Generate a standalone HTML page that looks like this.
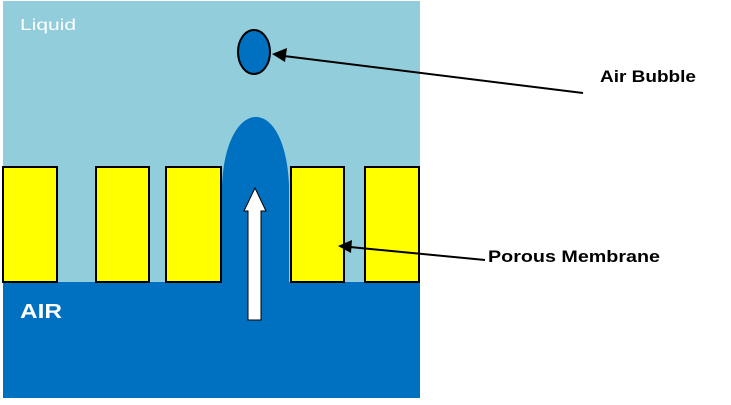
<!DOCTYPE html>
<html><head><style>
body{margin:0;width:731px;height:400px;background:#fff;overflow:hidden;font-family:"Liberation Sans",sans-serif}
</style></head><body>
<svg width="731" height="400" xmlns="http://www.w3.org/2000/svg">
<rect x="3" y="1" width="417" height="397" fill="#92cddc"/>
<rect x="3" y="282" width="417" height="116" fill="#0070c0"/>
<path d="M222 282 L222 185 C224 140 240 117 256 117 C272 117 287 140 289 185 L289 282 Z" fill="#0070c0"/>
<g fill="#ffff00" stroke="#000" stroke-width="2">
<rect x="3" y="167" width="54" height="115"/>
<rect x="96" y="167" width="53" height="115"/>
<rect x="166" y="167" width="55" height="115"/>
<rect x="291" y="167" width="53" height="115"/>
<rect x="365" y="167" width="54" height="115"/>
</g>
<path d="M248 320 L248 211 L244 211 L255 188 L266 211 L261 211 L261 320 Z" fill="#fff" stroke="#000" stroke-width="1"/>
<ellipse cx="254" cy="52" rx="16" ry="22" fill="#0070c0" stroke="#000" stroke-width="2"/>
<line x1="583" y1="93" x2="284" y2="56" stroke="#000" stroke-width="2"/>
<polygon points="272,54 287,48 285,62" fill="#000"/>
<line x1="485" y1="260" x2="350" y2="247" stroke="#000" stroke-width="2"/>
<polygon points="338,246 352,240 351,253" fill="#000"/>
<text x="20" y="30" font-size="16" fill="#fff" textLength="56" lengthAdjust="spacingAndGlyphs">Liquid</text>
<text x="20" y="318" font-size="20" font-weight="bold" fill="#fff" textLength="42" lengthAdjust="spacingAndGlyphs">AIR</text>
<text x="600" y="82" font-size="17" font-weight="bold" fill="#000" textLength="96" lengthAdjust="spacingAndGlyphs">Air Bubble</text>
<text x="488" y="262" font-size="17" font-weight="bold" fill="#000" textLength="172" lengthAdjust="spacingAndGlyphs">Porous Membrane</text>
</svg>
</body></html>
